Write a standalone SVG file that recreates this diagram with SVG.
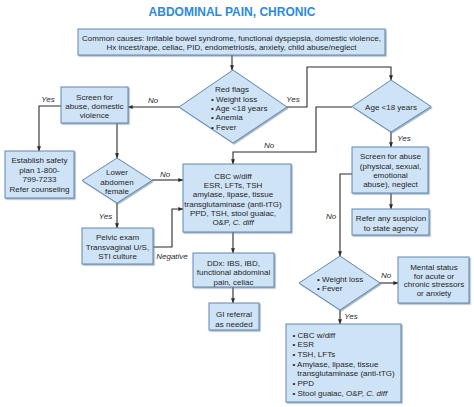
<svg xmlns="http://www.w3.org/2000/svg" width="474" height="407" viewBox="0 0 474 407">
<defs>
<filter id="sh" x="-10%" y="-10%" width="125%" height="125%">
<feDropShadow dx="1.2" dy="1.2" stdDeviation="0.6" flood-color="#6d7f92" flood-opacity="0.6"/>
</filter>
<marker id="ar" viewBox="0 0 8 8" refX="7.5" refY="4" markerWidth="5" markerHeight="5" orient="auto" markerUnits="userSpaceOnUse">
<path d="M0,0.8 L8,4 L0,7.2 Z" fill="#2b2b2b"/>
</marker>
<style>
.box{fill:#cfe3f6;stroke:#5f88b0;stroke-width:1;filter:url(#sh)}
.t{font-family:"Liberation Sans",Arial,sans-serif;font-size:8px;fill:#1f1f1f}
.c{text-anchor:middle}
.lb{font-family:"Liberation Sans",Arial,sans-serif;font-size:8px;font-style:italic;fill:#2b2b2b;text-anchor:middle}
.ln{fill:none;stroke:#2b2b2b;stroke-width:1.1;marker-end:url(#ar)}
.ttl{font-family:"Liberation Sans",Arial,sans-serif;font-size:12px;font-weight:bold;fill:#2a8be0;text-anchor:middle}
</style>
</defs>
<rect width="474" height="407" fill="#ffffff"/>
<text class="ttl" x="232" y="15.5">ABDOMINAL PAIN, CHRONIC</text>

<g id="connectors">
<path class="ln" d="M232,55 V70"/>
<path class="ln" d="M179,107 H128"/>
<path class="ln" d="M287,107 H307 V67 H391 V80"/>
<path class="ln" d="M352,107 H316 V152 H233 V164"/>
<path class="ln" d="M391,132 V147"/>
<path class="ln" d="M391,193 V209"/>
<path class="ln" d="M352,174 H340 V256"/>
<path class="ln" d="M380,283 H398"/>
<path class="ln" d="M340,310 V324"/>
<path class="ln" d="M233,232 V253"/>
<path class="ln" d="M233,287 V303"/>
<path class="ln" d="M61,106 H39 V151"/>
<path class="ln" d="M117,123 V158"/>
<path class="ln" d="M152,180 H183"/>
<path class="ln" d="M117,203 V228"/>
<path class="ln" d="M153,247 H172 V209 H183"/>
<text class="lb" x="153" y="103">No</text>
<text class="lb" x="293" y="102">Yes</text>
<text class="lb" x="269" y="148">No</text>
<text class="lb" x="404" y="140.5">Yes</text>
<text class="lb" x="331" y="219">No</text>
<text class="lb" x="386" y="277.5">No</text>
<text class="lb" x="351" y="319">Yes</text>
<text class="lb" x="48" y="102">Yes</text>
<text class="lb" x="165" y="177">No</text>
<text class="lb" x="105.5" y="219">Yes</text>
<text class="lb" x="172" y="259">Negative</text>
</g>

<g id="common-causes">
<rect class="box" x="78" y="29" width="307" height="26"/>
<text class="t c" x="231.5" y="41">Common causes: Irritable bowel syndrome, functional dyspepsia, domestic violence,</text>
<text class="t c" x="231.5" y="50">Hx incest/rape, celiac, PID, endometriosis, anxiety, child abuse/neglect</text>
</g>

<g id="red-flags">
<polygon class="box" points="233,70 287,107 233,143 179,107"/>
<text class="t c" x="232" y="92">Red flags</text>
<text class="t" x="211" y="101.5">• Weight loss</text>
<text class="t" x="211" y="111">• Age &lt;18 years</text>
<text class="t" x="211" y="120.3">• Anemia</text>
<text class="t" x="211" y="129.8">• Fever</text>
</g>

<g id="age-18">
<polygon class="box" points="391,80 431,106.5 391,132 352,106.5"/>
<text class="t c" x="391" y="109.5">Age &lt;18 years</text>
</g>

<g id="screen-abuse-child">
<rect class="box" x="352" y="147" width="76" height="46"/>
<text class="t c" x="390.5" y="159">Screen for abuse</text>
<text class="t c" x="390.5" y="168.5">(physical, sexual,</text>
<text class="t c" x="390.5" y="177.5">emotional</text>
<text class="t c" x="390.5" y="187">abuse), neglect</text>
</g>

<g id="refer-state">
<rect class="box" x="352" y="209" width="77" height="26"/>
<text class="t c" x="391" y="221">Refer any suspicion</text>
<text class="t c" x="391" y="230.5">to state agency</text>
</g>

<g id="weight-fever">
<polygon class="box" points="340,256 380,283 340,310 299,283"/>
<text class="t" x="317" y="281.5">• Weight loss</text>
<text class="t" x="317" y="291">• Fever</text>
</g>

<g id="mental-status">
<rect class="box" x="398" y="257" width="71" height="46"/>
<text class="t c" x="434" y="270">Mental status</text>
<text class="t c" x="434" y="278.5">for acute or</text>
<text class="t c" x="434" y="287">chronic stressors</text>
<text class="t c" x="434" y="296">or anxiety</text>
</g>

<g id="workup-child">
<rect class="box" x="286" y="324" width="115" height="78"/>
<text class="t" x="292.5" y="338">• CBC w/diff</text>
<text class="t" x="292.5" y="347.3">• ESR</text>
<text class="t" x="292.5" y="357.3">• TSH, LFTs</text>
<text class="t" x="292.5" y="367">• Amylase, lipase, tissue</text>
<text class="t" x="297.3" y="376.3">transglutaminase (anti-tTG)</text>
<text class="t" x="292.5" y="386.3">• PPD</text>
<text class="t" x="292.5" y="396.3">• Stool guaiac, O&amp;P, <tspan font-style="italic">C. diff</tspan></text>
</g>

<g id="cbc-workup">
<rect class="box" x="183" y="164" width="108" height="68"/>
<text class="t c" x="233" y="179">CBC w/diff</text>
<text class="t c" x="233" y="188">ESR, LFTs, TSH</text>
<text class="t c" x="233" y="197">amylase, lipase, tissue</text>
<text class="t c" x="233" y="207">transglutaminase (anti-tTG)</text>
<text class="t c" x="233" y="216">PPD, TSH, stool guaiac,</text>
<text class="t c" x="233" y="225">O&amp;P, <tspan font-style="italic">C. diff</tspan></text>
</g>

<g id="ddx">
<rect class="box" x="193" y="253" width="81" height="34"/>
<text class="t c" x="233.5" y="266">DDx: IBS, IBD,</text>
<text class="t c" x="233.5" y="275.3">functional abdominal</text>
<text class="t c" x="233.5" y="284.5">pain, celiac</text>
</g>

<g id="gi-referral">
<rect class="box" x="209" y="303" width="50" height="27"/>
<text class="t c" x="234" y="317">GI referral</text>
<text class="t c" x="234" y="327">as needed</text>
</g>

<g id="screen-abuse-dv">
<rect class="box" x="61" y="87" width="67" height="36"/>
<text class="t c" x="94.5" y="99.7">Screen for</text>
<text class="t c" x="94.5" y="109">abuse, domestic</text>
<text class="t c" x="94.5" y="118.3">violence</text>
</g>

<g id="safety-plan">
<rect class="box" x="5" y="151" width="69" height="47"/>
<text class="t c" x="39.5" y="163">Establish safety</text>
<text class="t c" x="39.5" y="172.7">plan 1-800-</text>
<text class="t c" x="39.5" y="182">799-7233</text>
<text class="t c" x="39.5" y="192">Refer counseling</text>
</g>

<g id="lower-abdomen">
<polygon class="box" points="117,158 152,180.5 117,203 82,180.5"/>
<text class="t c" x="117" y="174.7">Lower</text>
<text class="t c" x="117" y="184.7">abdomen</text>
<text class="t c" x="117" y="194">female</text>
</g>

<g id="pelvic-exam">
<rect class="box" x="82" y="228" width="71" height="36"/>
<text class="t c" x="117.5" y="240">Pelvic exam</text>
<text class="t c" x="117.5" y="249.7">Transvaginal U/S,</text>
<text class="t c" x="117.5" y="259">STI culture</text>
</g>
</svg>
